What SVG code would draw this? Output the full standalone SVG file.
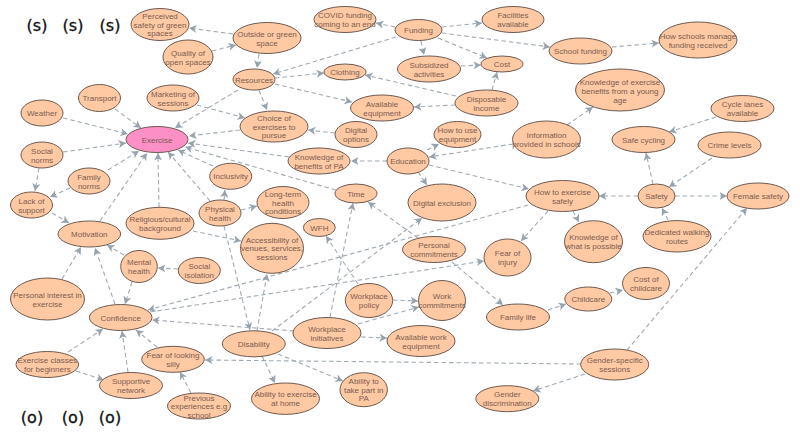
<svg xmlns="http://www.w3.org/2000/svg" width="800" height="436" viewBox="0 0 800 436">
<style>
ellipse{fill:#ffc9a3;stroke:#6e5a50;stroke-width:1}
#exercise ellipse{fill:#fb8fc6}
text{font-family:"Liberation Sans",Arial,sans-serif;font-size:8px;fill:#7a5c50;text-anchor:middle}
.m{font-family:"DejaVu Sans",sans-serif;font-size:16px;fill:#111;stroke:#111;stroke-width:.3}
#connectors line{stroke:#a0aab2;stroke-width:1.1;stroke-dasharray:4.5 3;marker-end:url(#a)}
</style>
<defs><marker id="a" markerUnits="userSpaceOnUse" markerWidth="9" markerHeight="9" refX="7.5" refY="4" orient="auto"><path d="M0,0 L7.5,4 L0,8 L2,4 z" fill="#97a3ac"/></marker></defs>
<rect width="800" height="436" fill="#fff"/>
<g id="connectors">
<line x1="63" y1="118" x2="128" y2="134"/>
<line x1="115" y1="109" x2="141" y2="128"/>
<line x1="63" y1="152" x2="126" y2="143"/>
<line x1="108" y1="170" x2="139" y2="151"/>
<line x1="100" y1="221" x2="147" y2="153"/>
<line x1="159" y1="207" x2="158" y2="153"/>
<line x1="210" y1="201" x2="168" y2="152"/>
<line x1="224" y1="200" x2="225" y2="190"/>
<line x1="289" y1="157" x2="188" y2="143"/>
<line x1="336" y1="190" x2="185" y2="147"/>
<line x1="213" y1="166" x2="178" y2="150"/>
<line x1="238" y1="90" x2="175" y2="128"/>
<line x1="240" y1="130" x2="189" y2="136"/>
<line x1="197" y1="105" x2="245" y2="118"/>
<line x1="233" y1="34" x2="189" y2="28"/>
<line x1="212" y1="51" x2="236" y2="45"/>
<line x1="259" y1="54" x2="257" y2="68"/>
<line x1="396" y1="37" x2="273" y2="74"/>
<line x1="275" y1="78" x2="324" y2="73"/>
<line x1="275" y1="84" x2="352" y2="102"/>
<line x1="259" y1="90" x2="267" y2="110"/>
<line x1="335" y1="133" x2="308" y2="130"/>
<line x1="387" y1="161" x2="351" y2="161"/>
<line x1="395" y1="27" x2="376" y2="23"/>
<line x1="442" y1="27" x2="482" y2="23"/>
<line x1="442" y1="33" x2="550" y2="47"/>
<line x1="421" y1="41" x2="424" y2="55"/>
<line x1="438" y1="38" x2="487" y2="58"/>
<line x1="461" y1="66" x2="481" y2="65"/>
<line x1="492" y1="90" x2="497" y2="72"/>
<line x1="456" y1="96" x2="365" y2="75"/>
<line x1="455" y1="105" x2="414" y2="107"/>
<line x1="612" y1="47" x2="659" y2="43"/>
<line x1="567" y1="125" x2="593" y2="107"/>
<line x1="513" y1="144" x2="429" y2="157"/>
<line x1="427" y1="150" x2="439" y2="144"/>
<line x1="418" y1="172" x2="427" y2="185"/>
<line x1="429" y1="165" x2="529" y2="189"/>
<line x1="638" y1="196" x2="599" y2="196"/>
<line x1="653" y1="184" x2="646" y2="153"/>
<line x1="675" y1="196" x2="727" y2="196"/>
<line x1="716" y1="117" x2="669" y2="132"/>
<line x1="712" y1="158" x2="669" y2="187"/>
<line x1="668" y1="220" x2="662" y2="208"/>
<line x1="528" y1="205" x2="148" y2="310"/>
<line x1="150" y1="312" x2="484" y2="261"/>
<line x1="272" y1="331" x2="422" y2="218"/>
<line x1="193" y1="231" x2="241" y2="241"/>
<line x1="241" y1="210" x2="257" y2="206"/>
<line x1="224" y1="226" x2="250" y2="330"/>
<line x1="257" y1="331" x2="267" y2="274"/>
<line x1="262" y1="356" x2="275" y2="383"/>
<line x1="278" y1="354" x2="343" y2="381"/>
<line x1="294" y1="331" x2="152" y2="320"/>
<line x1="330" y1="317" x2="353" y2="203"/>
<line x1="358" y1="324" x2="419" y2="307"/>
<line x1="361" y1="337" x2="387" y2="338"/>
<line x1="358" y1="284" x2="326" y2="236"/>
<line x1="393" y1="300" x2="418" y2="301"/>
<line x1="418" y1="238" x2="368" y2="202"/>
<line x1="452" y1="262" x2="503" y2="305"/>
<line x1="548" y1="310" x2="566" y2="304"/>
<line x1="610" y1="293" x2="623" y2="290"/>
<line x1="548" y1="211" x2="521" y2="241"/>
<line x1="573" y1="211" x2="579" y2="222"/>
<line x1="627" y1="350" x2="747" y2="208"/>
<line x1="581" y1="364" x2="205" y2="360"/>
<line x1="585" y1="374" x2="533" y2="391"/>
<line x1="157" y1="347" x2="136" y2="330"/>
<line x1="128" y1="372" x2="122" y2="331"/>
<line x1="68" y1="352" x2="103" y2="329"/>
<line x1="76" y1="371" x2="104" y2="380"/>
<line x1="191" y1="393" x2="180" y2="372"/>
<line x1="62" y1="279" x2="81" y2="247"/>
<line x1="115" y1="304" x2="95" y2="248"/>
<line x1="124" y1="255" x2="107" y2="245"/>
<line x1="132" y1="282" x2="125" y2="304"/>
<line x1="178" y1="269" x2="158" y2="268"/>
<line x1="39" y1="168" x2="35" y2="191"/>
<line x1="70" y1="188" x2="50" y2="197"/>
<line x1="52" y1="213" x2="69" y2="223"/>
</g>
<text class="m" x="37" y="31">(s)</text><text class="m" x="73" y="31">(s)</text><text class="m" x="110" y="31">(s)</text>
<text class="m" x="32" y="423">(o)</text><text class="m" x="73" y="423">(o)</text><text class="m" x="110" y="423">(o)</text>
<g id="exercise"><ellipse cx="157" cy="139.5" rx="31" ry="13"/><text x="157" y="142.5">Exercise</text></g>
<g id="weather"><ellipse cx="42" cy="113" rx="21" ry="13"/><text x="42" y="116">Weather</text></g>
<g id="transport"><ellipse cx="99.5" cy="98" rx="21" ry="13.5"/><text x="99.5" y="101">Transport</text></g>
<g id="marketing"><ellipse cx="173" cy="98" rx="26" ry="13"/><text x="173" y="96.5">Marketing of</text><text x="173" y="105.5">sessions</text></g>
<g id="social-norms"><ellipse cx="42" cy="155" rx="21" ry="13"/><text x="42" y="153.5">Social</text><text x="42" y="162.5">norms</text></g>
<g id="family-norms"><ellipse cx="89" cy="181" rx="21" ry="13"/><text x="89" y="179.5">Family</text><text x="89" y="188.5">norms</text></g>
<g id="lack-support"><ellipse cx="31.5" cy="205" rx="21" ry="13"/><text x="31.5" y="203.5">Lack of</text><text x="31.5" y="212.5">support</text></g>
<g id="perceived"><ellipse cx="160" cy="24.5" rx="29" ry="16"/><text x="160" y="19">Perceived</text><text x="160" y="27.5">safety of green</text><text x="160" y="36">spaces</text></g>
<g id="quality"><ellipse cx="188" cy="57" rx="25" ry="17"/><text x="188" y="55.5">Quality of</text><text x="188" y="64.5">open spaces</text></g>
<g id="outside"><ellipse cx="267" cy="38" rx="34" ry="15.5"/><text x="267" y="36.5">Outside or green</text><text x="267" y="45.5">space</text></g>
<g id="resources"><ellipse cx="254" cy="79.5" rx="21" ry="10.5"/><text x="254" y="82.5">Resources</text></g>
<g id="clothing"><ellipse cx="345" cy="72" rx="21" ry="8"/><text x="345" y="74.5">Clothing</text></g>
<g id="choice"><ellipse cx="274" cy="126.5" rx="34" ry="15.5"/><text x="274" y="121">Choice of</text><text x="274" y="129.5">exercises to</text><text x="274" y="138">pursue</text></g>
<g id="digital-options"><ellipse cx="356" cy="134.5" rx="21" ry="13"/><text x="356" y="133">Digital</text><text x="356" y="142">options</text></g>
<g id="knowledge-benefits"><ellipse cx="319" cy="161" rx="31" ry="13"/><text x="319" y="159.5">Knowledge of</text><text x="319" y="168.5">benefits of PA</text></g>
<g id="covid"><ellipse cx="345" cy="19.5" rx="31" ry="13"/><text x="345" y="18">COVID funding</text><text x="345" y="27">coming to an end</text></g>
<g id="funding"><ellipse cx="418.5" cy="30" rx="23.5" ry="10.5"/><text x="418.5" y="33">Funding</text></g>
<g id="facilities"><ellipse cx="513" cy="19.5" rx="31" ry="13"/><text x="513" y="18">Facilities</text><text x="513" y="27">available</text></g>
<g id="school-funding"><ellipse cx="580.5" cy="51" rx="31.5" ry="13"/><text x="580.5" y="54">School funding</text></g>
<g id="how-schools"><ellipse cx="698" cy="40" rx="39" ry="18"/><text x="698" y="39">How schools manage</text><text x="698" y="48">funding received</text></g>
<g id="subsidized"><ellipse cx="429" cy="69" rx="31.5" ry="13"/><text x="429" y="67.5">Subsidized</text><text x="429" y="76.5">activities</text></g>
<g id="cost"><ellipse cx="502" cy="64" rx="21" ry="8"/><text x="502" y="67">Cost</text></g>
<g id="disposable"><ellipse cx="486.5" cy="103" rx="31.5" ry="13"/><text x="486.5" y="101.5">Disposable</text><text x="486.5" y="110.5">income</text></g>
<g id="available-equipment"><ellipse cx="382" cy="108" rx="31.5" ry="13"/><text x="382" y="106.5">Available</text><text x="382" y="115.5">equipment</text></g>
<g id="how-to-use"><ellipse cx="457.5" cy="134.5" rx="23.5" ry="13"/><text x="457.5" y="133">How to use</text><text x="457.5" y="142">equipment</text></g>
<g id="knowledge-young"><ellipse cx="620" cy="90" rx="44.5" ry="21"/><text x="620" y="84.5">Knowledge of exercise</text><text x="620" y="93.5">benefits from a young</text><text x="620" y="102.5">age</text></g>
<g id="information"><ellipse cx="546.5" cy="139.5" rx="34" ry="18.5"/><text x="546.5" y="138">Information</text><text x="546.5" y="147">provided in schools</text></g>
<g id="education"><ellipse cx="408" cy="161" rx="21" ry="13"/><text x="408" y="164">Education</text></g>
<g id="digital-exclusion"><ellipse cx="442" cy="202.5" rx="34" ry="18.5"/><text x="442" y="205.5">Digital exclusion</text></g>
<g id="time"><ellipse cx="356" cy="193.5" rx="21" ry="9.5"/><text x="356" y="196.5">Time</text></g>
<g id="how-exercise"><ellipse cx="562.5" cy="196" rx="36.5" ry="15.5"/><text x="562.5" y="194.5">How to exercise</text><text x="562.5" y="203.5">safely</text></g>
<g id="safety"><ellipse cx="656.5" cy="196" rx="18.5" ry="12"/><text x="656.5" y="199">Safety</text></g>
<g id="female-safety"><ellipse cx="758" cy="196" rx="31" ry="13"/><text x="758" y="199">Female safety</text></g>
<g id="safe-cycling"><ellipse cx="643.5" cy="139.5" rx="31.5" ry="13"/><text x="643.5" y="142.5">Safe cycling</text></g>
<g id="cycle-lanes"><ellipse cx="742.5" cy="108.5" rx="31.5" ry="13"/><text x="742.5" y="107">Cycle lanes</text><text x="742.5" y="116">available</text></g>
<g id="crime"><ellipse cx="729.5" cy="145" rx="31.5" ry="13"/><text x="729.5" y="148">Crime levels</text></g>
<g id="dedicated"><ellipse cx="677" cy="236.3" rx="34" ry="15.7"/><text x="677" y="235">Dedicated walking</text><text x="677" y="244">routes</text></g>
<g id="knowledge-possible"><ellipse cx="593.5" cy="241.7" rx="29" ry="21"/><text x="593.5" y="240">Knowledge of</text><text x="593.5" y="249">what is possible</text></g>
<g id="fear-injury"><ellipse cx="507.5" cy="257.5" rx="23.5" ry="18.5"/><text x="507.5" y="256">Fear of</text><text x="507.5" y="265">injury</text></g>
<g id="personal-commitments"><ellipse cx="434" cy="249.5" rx="31.5" ry="13"/><text x="434" y="248">Personal</text><text x="434" y="257">commitments</text></g>
<g id="work-commitments"><ellipse cx="442" cy="300.5" rx="23.5" ry="20"/><text x="442" y="299">Work</text><text x="442" y="308">commitments</text></g>
<g id="family-life"><ellipse cx="518" cy="317" rx="31.5" ry="13"/><text x="518" y="320">Family life</text></g>
<g id="childcare"><ellipse cx="588.3" cy="299" rx="23.5" ry="12"/><text x="588.3" y="302">Childcare</text></g>
<g id="cost-childcare"><ellipse cx="646" cy="283.5" rx="23.5" ry="16"/><text x="646" y="282">Cost of</text><text x="646" y="291">childcare</text></g>
<g id="available-work"><ellipse cx="421" cy="341" rx="34" ry="15.5"/><text x="421" y="339.5">Available work</text><text x="421" y="348.5">equipment</text></g>
<g id="gender-specific"><ellipse cx="614.7" cy="364.5" rx="34" ry="15.5"/><text x="614.7" y="363">Gender-specific</text><text x="614.7" y="372">sessions</text></g>
<g id="gender-discrimination"><ellipse cx="507.3" cy="398.7" rx="31.5" ry="13"/><text x="507.3" y="397.2">Gender</text><text x="507.3" y="406.2">discrimination</text></g>
<g id="motivation"><ellipse cx="89.3" cy="234" rx="31.3" ry="13"/><text x="89.3" y="237">Motivation</text></g>
<g id="religious"><ellipse cx="160" cy="223.3" rx="34" ry="16"/><text x="160" y="221.8">Religious/cultural</text><text x="160" y="230.8">background</text></g>
<g id="physical"><ellipse cx="220" cy="213" rx="21" ry="13"/><text x="220" y="211.5">Physical</text><text x="220" y="220.5">health</text></g>
<g id="inclusivity"><ellipse cx="230.7" cy="176.3" rx="21" ry="13"/><text x="230.7" y="179.3">Inclusivity</text></g>
<g id="long-term"><ellipse cx="283" cy="202.5" rx="26" ry="16"/><text x="283" y="197">Long-term</text><text x="283" y="205.5">health</text><text x="283" y="214">conditions</text></g>
<g id="wfh"><ellipse cx="319.3" cy="227.5" rx="16" ry="9"/><text x="319.3" y="230.5">WFH</text></g>
<g id="accessibility"><ellipse cx="272" cy="248.3" rx="31.5" ry="25"/><text x="272" y="242.8">Accessibility of</text><text x="272" y="251.3">venues, services,</text><text x="272" y="259.8">sessions</text></g>
<g id="mental"><ellipse cx="139" cy="266.5" rx="18.3" ry="16"/><text x="139" y="265">Mental</text><text x="139" y="274">health</text></g>
<g id="social-isolation"><ellipse cx="199.3" cy="270.5" rx="21" ry="13"/><text x="199.3" y="269">Social</text><text x="199.3" y="278">isolation</text></g>
<g id="personal-interest"><ellipse cx="47.5" cy="299" rx="37" ry="21"/><text x="47.5" y="297.5">Personal interest in</text><text x="47.5" y="306.5">exercise</text></g>
<g id="confidence"><ellipse cx="120.7" cy="317.5" rx="31.3" ry="13"/><text x="120.7" y="320.5">Confidence</text></g>
<g id="exercise-classes"><ellipse cx="47.3" cy="364.5" rx="31.3" ry="13"/><text x="47.3" y="363">Exercise classes</text><text x="47.3" y="372">for beginners</text></g>
<g id="fear-silly"><ellipse cx="173" cy="359.3" rx="31.3" ry="13"/><text x="173" y="357.8">Fear of looking</text><text x="173" y="366.8">silly</text></g>
<g id="supportive"><ellipse cx="131" cy="385.5" rx="31.5" ry="13"/><text x="131" y="384">Supportive</text><text x="131" y="393">network</text></g>
<g id="previous"><ellipse cx="199" cy="406" rx="31.5" ry="13"/><text x="199" y="400.5">Previous</text><text x="199" y="409">experiences e.g</text><text x="199" y="417.5">school</text></g>
<g id="disability"><ellipse cx="253.8" cy="343.8" rx="31.5" ry="13"/><text x="253.8" y="346.8">Disability</text></g>
<g id="ability-home"><ellipse cx="285.5" cy="398.7" rx="34" ry="15.7"/><text x="285.5" y="397.2">Ability to exercise</text><text x="285.5" y="406.2">at home</text></g>
<g id="ability-part"><ellipse cx="363.7" cy="389.7" rx="23.7" ry="17"/><text x="363.7" y="384.2">Ability to</text><text x="363.7" y="392.7">take part in</text><text x="363.7" y="401.2">PA</text></g>
<g id="workplace-initiatives"><ellipse cx="327" cy="333" rx="34" ry="15.5"/><text x="327" y="331.5">Workplace</text><text x="327" y="340.5">initiatives</text></g>
<g id="workplace-policy"><ellipse cx="369" cy="300.5" rx="23.7" ry="17"/><text x="369" y="299">Workplace</text><text x="369" y="308">policy</text></g>
</svg>
